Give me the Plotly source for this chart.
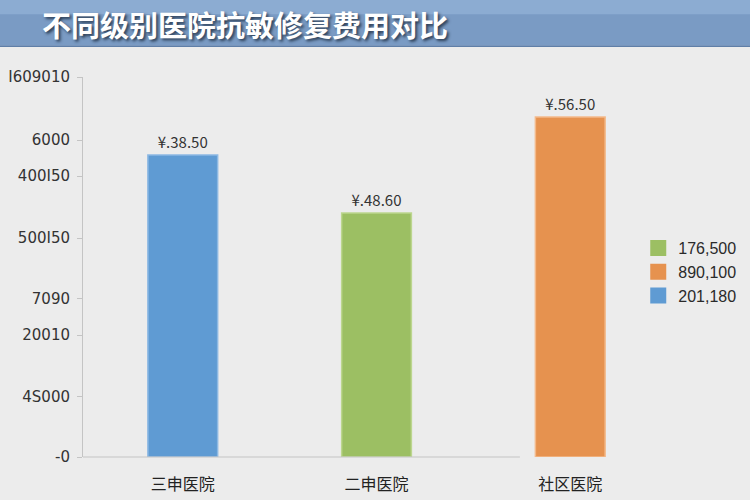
import plotly.graph_objects as go

# 数据
hospitals = ["三申医院", "二申医院", "社区医院"]
bar_values = [79.5, 64.2, 89.5]
bar_labels = ["¥.38.50", "¥.48.60", "¥.56.50"]
colors = ["#5f9bd3", "#9cbf63", "#e6924f"]
edge_colors = ["#8cb8e3", "#bcd68f", "#f3b98a"]

# 图例（按显示顺序）
legend_names = ["176,500", "890,100", "201,180"]
legend_colors = ["#9cbf63", "#e6924f", "#5f9bd3"]

y_tickvals = [0, 15.8, 32.1, 41.6, 57.6, 73.9, 83.4, 100]
y_ticktext = ["-0", "4S000", "20010", "7090", "500I50", "400I50", "6000", "I609010"]

fig = go.Figure()

for i in range(len(hospitals)):
    fig.add_trace(go.Bar(
        x=[hospitals[i]],
        y=[bar_values[i]],
        showlegend=False,
        marker=dict(color=colors[i], line=dict(color=edge_colors[i], width=1.5)),
        width=0.36,
        text=[bar_labels[i]],
        textposition="outside",
        textfont=dict(size=15, color="#333333"),
        cliponaxis=False,
    ))

for i in range(len(legend_names)):
    fig.add_trace(go.Scatter(
        x=[None], y=[None], mode="markers",
        name=legend_names[i],
        marker=dict(symbol="square", size=16, color=legend_colors[i]),
    ))

# 标题背景条
fig.add_shape(type="rect", xref="paper", yref="paper",
              x0=-0.2, x1=1.5, y0=1.082, y1=1.21,
              fillcolor="#7a9bc4", line=dict(width=0), layer="below")
fig.add_shape(type="rect", xref="paper", yref="paper",
              x0=-0.2, x1=1.5, y0=1.165, y1=1.205,
              fillcolor="#8cacd2", line=dict(width=0), layer="below")
fig.add_shape(type="rect", xref="paper", yref="paper",
              x0=-0.2, x1=1.5, y0=1.079, y1=1.083,
              fillcolor="#5f7fa8", line=dict(width=0), layer="below")

# 底部坐标线
fig.add_shape(type="line", xref="x", yref="paper",
              x0=-0.515, x1=1.74, y0=0, y1=0,
              line=dict(color="#c4c4c4", width=1))

fig.update_layout(
    width=750, height=500,
    margin=dict(l=83, r=110, t=77, b=43, autoexpand=False),
    paper_bgcolor="#ececec",
    plot_bgcolor="#ececec",
    barmode="overlay",
    font=dict(family="Noto Sans CJK SC, Noto Sans, sans-serif", color="#333333"),
    title=dict(
        text="<b>不同级别医院抗敏修复费用对比</b>",
        x=0.056, xanchor="left", y=0.946, yanchor="middle",
        font=dict(size=29, color="white", shadow="2px 2px 3px #2c3e55"),
    ),
    showlegend=True,
    legend=dict(
        xref="container", yref="container",
        x=0.851, xanchor="left", y=0.456, yanchor="middle",
        bgcolor="rgba(0,0,0,0)",
        font=dict(size=16, color="#2a2a2a", family="Liberation Sans, sans-serif"),
        itemwidth=30,
        tracegroupgap=0,
    ),
    xaxis=dict(
        range=[-0.515, 2.36],
        showline=False,
        ticks="", showgrid=False, zeroline=False,
        ticklabelstandoff=16,
        tickfont=dict(size=16, color="#222222"),
    ),
    yaxis=dict(
        range=[0, 100],
        tickvals=y_tickvals, ticktext=y_ticktext,
        showline=True, linecolor="#c4c4c4", linewidth=1,
        ticks="outside", ticklen=5, tickcolor="#c4c4c4",
        ticklabelstandoff=4,
        showgrid=False, zeroline=False,
        tickfont=dict(size=15, color="#333333", family="DejaVu Sans, sans-serif"),
    ),
)

fig.write_html("out.html", config={"displayModeBar": False},
               post_script="document.body.style.margin='0';")
